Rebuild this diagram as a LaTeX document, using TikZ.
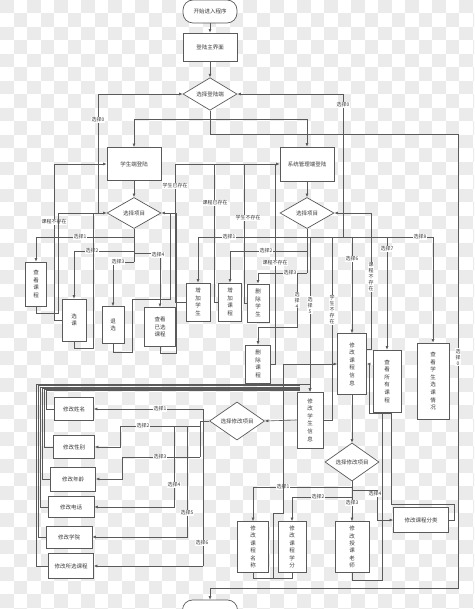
\documentclass[tikz,border=0pt]{standalone}
\usepackage{fontspec}
\newfontfamily\cjk{Noto Sans CJK SC}
\usetikzlibrary{shapes.geometric,arrows.meta}
\definecolor{lc}{HTML}{5A5A5A}
\definecolor{tc}{HTML}{3A3A3A}
\definecolor{chk}{HTML}{EBEBEB}
\begin{document}
\begin{tikzpicture}[x=1pt,y=-1pt,
  ln/.style={draw=lc, line width=0.6pt},
  bus/.style={draw=lc, line width=0.45pt},
  arr/.style={ln, -{Latex[length=3.5pt,width=3pt]}},
  box/.style={draw=lc, line width=0.7pt, fill=white, inner sep=0pt, align=center, text=tc,
    font=\cjk\fontsize{5.5}{7.6}\selectfont},
  term/.style={box, rounded corners=10pt},
  dia/.style={diamond, draw=lc, line width=0.7pt, fill=white, inner sep=0pt, text=tc,
    font=\cjk\fontsize{5.5}{7}\selectfont},
  lbl/.style={fill=white, inner sep=0.4pt, text=tc, align=center,
    font=\cjk\fontsize{5}{6}\selectfont}]
\useasboundingbox (0,0) rectangle (474,609);
\begin{scope}
\clip (0,0) rectangle (474,609);
\fill[white] (0,0) rectangle (474,609);
\foreach \i in {0,...,35}{\foreach \j in {0,...,45}{%
  \pgfmathtruncatemacro\k{mod(\i+\j,2)}%
  \ifnum\k=0 \fill[chk] (\i*13.5,\j*13.5) rectangle ++(13.5,13.5);\fi}}
\end{scope}

% ---------- nodes ----------
\node[term, minimum width=54, minimum height=23] (start) at (210,11.5) {开始进入程序};
\node[box, minimum width=54, minimum height=28] (login) at (210,47) {登陆主界面};
\node[dia, minimum width=54, minimum height=31] (d0) at (210,94) {选择登陆端};
\node[box, minimum width=54, minimum height=33] (stu) at (134,164) {学生端登陆};
\node[box, minimum width=54, minimum height=34] (adm) at (307,164) {系统管理端登陆};
\node[dia, minimum width=54, minimum height=31] (ds) at (134,213) {选择项目};
\node[dia, minimum width=54, minimum height=31] (da) at (307,213) {选择项目};

\node[box, minimum width=21, minimum height=44] (s1) at (36,284) {查\\看\\课\\程};
\node[box, minimum width=24, minimum height=42] (s2) at (74,320) {选\\课};
\node[box, minimum width=22, minimum height=37] (s3) at (113,325) {退\\选};
\node[box, minimum width=31, minimum height=39] (s4) at (160,327) {查看\\已选\\课程};

\node[box, minimum width=24, minimum height=38] (a1) at (198,302) {增\\加\\学\\生};
\node[box, minimum width=23, minimum height=38] (a2) at (230,302) {增\\加\\课\\程};
\node[box, minimum width=22, minimum height=38] (a3) at (258,303) {删\\除\\学\\生};
\node[box, minimum width=25, minimum height=38] (a4) at (258,364) {删\\除\\课\\程};

\node[box, minimum width=26, minimum height=56] (msi) at (310,420) {修\\改\\学\\生\\信\\息};
\node[box, minimum width=29, minimum height=61] (mci) at (352,364) {修\\改\\课\\程\\信\\息};
\node[box, minimum width=28, minimum height=62] (vac) at (387,381) {查\\看\\所\\有\\课\\程};
\node[box, minimum width=32, minimum height=76] (vsc) at (433,381) {查\\看\\学\\生\\选\\课\\情\\况};

\node[dia, minimum width=55, minimum height=32] (dm1) at (237,421) {选择修改项目};
\node[dia, minimum width=54, minimum height=31] (dm2) at (352,462) {选择修改项目};

\node[box, minimum width=39, minimum height=23] (m1) at (74,409) {修改姓名};
\node[box, minimum width=41, minimum height=23] (m2) at (74,447) {修改性别};
\node[box, minimum width=45, minimum height=24] (m3) at (73,479) {修改年龄};
\node[box, minimum width=46, minimum height=21] (m4) at (71,507) {修改电话};
\node[box, minimum width=46, minimum height=22] (m5) at (69,537) {修改学院};
\node[box, minimum width=45, minimum height=25] (m6) at (71,566) {修改所选课程};

\node[box, minimum width=31, minimum height=51, font=\cjk\fontsize{5.5}{7.4}\selectfont] (c1) at (253,547) {修\\改\\课\\程\\名\\称};
\node[box, minimum width=28, minimum height=51, font=\cjk\fontsize{5.5}{7.4}\selectfont] (c2) at (292,547) {修\\改\\课\\程\\学\\分};
\node[box, minimum width=34, minimum height=51, font=\cjk\fontsize{5.5}{7.4}\selectfont] (c3) at (352,547) {修\\改\\授\\课\\老\\师};
\node[box, minimum width=55, minimum height=25] (c4) at (421,520) {修改课程分类};

\node[term, minimum width=55, minimum height=30] (fin) at (210,615) {};

% ---------- top ----------
\draw[arr] (start) -- (login);
\draw[arr] (login) -- (d0);
\draw[arr] (d0.south) -- (210,134) -- (458,134) -- (458,588) -- (210,588) -- (fin.north);
\node[lbl] at (458,357) {选\\择\\0};
\draw[ln] (stu.north |- 0,119) -- (adm.north |- 0,119);
\draw[arr] (stu.north |- 0,119) -- (stu.north);
\draw[arr] (adm.north |- 0,119) -- (adm.north);
\draw[arr] (stu) -- (ds);
\draw[arr] (adm) -- (da);
\draw[arr] (98,213) -- (98,94) -- (d0.west);
\node[lbl] at (98,120) {选择0};
\draw[arr] (da.south) -- (307,237) -- (343,237) -- (343,94) -- (d0.east);
\node[lbl] at (343,105) {选择0};

% ---------- student side ----------
\draw[ln] (ds.south) -- (134,262);
\draw[arr] (134,237) -- (s1.north |- 0,237) -- (s1.north);
\draw[arr] (134,251) -- (s2.north |- 0,251) -- (s2.north);
\draw[arr] (134,262) -- (s3.north |- 0,262) -- (s3.north);
\draw[arr] (134,253) -- (s4.north |- 0,253) -- (s4.north);
\node[lbl] at (80,237) {选择1};
\node[lbl] at (92,251) {选择2};
\node[lbl] at (118,262) {选择3};
\node[lbl] at (158,255) {选择4};
\draw[arr] (s2.west) -| (54,164) -- (stu.west);
\node[lbl] at (54,222) {课程不存在};
\draw[arr] (s1.south) -- (36,313) -- (58,313) -- (58,213) -- (ds.west);
\draw[ln] (s2.south) -- (74,348) -- (93,348) -- (93,213);
\draw[arr] (s3.south) -- (113,352) -- (132,352) -- (132,299) -- (170,299) -- (170,213) -- (ds.east);
\draw[ln] (s4.south) -- (160,353) -- (176,353) -- (176,213) -- (170,213);

% ---------- admin side ----------
\draw[ln] (a1.north |- 0,237) -- (vsc.north |- 0,237);
\draw[arr] (a1.north |- 0,237) -- (a1.north);
\draw[arr] (307,251) -- (a2.north |- 0,251) -- (a2.north);
\draw[ln] (307,237) -- (307,273);
\draw[arr] (307,273) -- (a3.north |- 0,273) -- (a3.north);
\draw[arr] (297,273) -- (297,327) -- (a4.north |- 0,327) -- (a4.north);
\draw[arr] (msi.north |- 0,237) -- (msi.north);
\draw[arr] (mci.north |- 0,237) -- (mci.north);
\draw[arr] (vac.north |- 0,237) -- (vac.north);
\draw[arr] (vsc.north |- 0,237) -- (vsc.north);
\node[lbl] at (229,237) {选择1};
\node[lbl] at (266,251) {选择2};
\node[lbl] at (290,273) {选择3};
\node[lbl] at (297,300) {选\\择\\4};
\node[lbl] at (310,305) {选\\择\\5};
\node[lbl] at (352,259) {选择6};
\node[lbl] at (387,249) {选择7};
\node[lbl] at (420,237) {选择8};

\draw[arr] (a1.west) -| (175,164) -- (adm.west);
\draw[ln] (a2.west) -| (214,164);
\draw[ln] (a3.west) -| (244,164);
\draw[ln] (a4.east) -| (275,164);
\node[lbl] at (175,186) {学生已存在};
\node[lbl] at (215,203) {课程已存在};
\node[lbl] at (248,218) {学生不存在};
\node[lbl] at (275,263) {课程不存在};

\draw[ln] (msi.east) -| (332,237);
\node[lbl] at (332,310) {学\\生\\不\\存\\在};
\draw[arr] (mci.east |- 0,349) -- (371,349) -- (371,213) -- (da.east);
\node[lbl] at (371,277) {课\\程\\不\\存\\在};

% ---------- course modification ----------
\draw[arr] (mci) -- (dm2);
\draw[arr] (dm2.south) -- (352,487) -- (c1.north |- 0,487) -- (c1.north);
\draw[arr] (352,497) -- (c2.north |- 0,497) -- (c2.north);
\draw[arr] (352,487) -- (c3.north);
\draw[arr] (352,490) -- (377,490) -- (377,520) -- (c4.west);
\node[lbl] at (283,487) {选择1};
\node[lbl] at (318,497) {选择2};
\node[lbl] at (352,503) {选择3};
\node[lbl] at (375,494) {选择4};
\draw[ln] (c1.south) -- (c1.south |- 0,578) -- (c2.south |- 0,578) -- (c2.south);
\draw[arr] (273,578) -- (273,513) -- (283,513) -- (283,364) -- (mci.west);
\draw[ln] (c3.south) -- (c3.south |- 0,580) -- (382,580) -- (382,413);
\draw[arr] (c4.east) -- (454,520) -- (454,504) -- (391,504) -- (391,413) -- (369,413) -- (369,364) -- (mci.east);

% ---------- student modification ----------
\draw[arr] (msi.west) -- (dm1.east);
\draw[ln] (dm1.west) -- (200,421) -- (200,457);
\draw[ln] (dm1.west) -- (203,421);
\draw[ln] (m1.east -| 203,0) -- (m6.east -| 203,0);
\draw[arr] (m1.east -| 203,0) -- (m1.east);
\draw[arr] (m6.east -| 203,0) -- (m6.east);
\draw[arr] (200,426) -- (120,426) -- (120,447) -- (m2.east);
\draw[arr] (200,457) -- (122,457) -- (122,479) -- (m3.east);
\draw[arr] (174,426) -- (174,507) -- (m4.east);
\draw[arr] (187,426) -- (187,537) -- (m5.east);
\node[lbl] at (160,409) {选择1};
\node[lbl] at (143,426) {选择2};
\node[lbl] at (160,457) {选择3};
\node[lbl] at (174,485) {选择4};
\node[lbl] at (187,513) {选择5};
\node[lbl] at (202,543) {选择6};
\draw[bus] (m1.west) -| (46,390.5) -- (300,390.5);
\draw[bus] (m2.west) -| (44,389.2) -- (300,389.2);
\draw[bus] (m3.west) -| (42,388) -- (300,388);
\draw[bus] (m4.west) -| (40,386.8) -- (300,386.8);
\draw[bus] (m5.west) -| (38,385.6) -- (300,385.6);
\draw[bus] (m6.west) -| (36,384.4) -- (300,384.4);
\draw[arr] (300,384.4) -- (310,384.4) -- (msi.north);
\end{tikzpicture}
\end{document}
